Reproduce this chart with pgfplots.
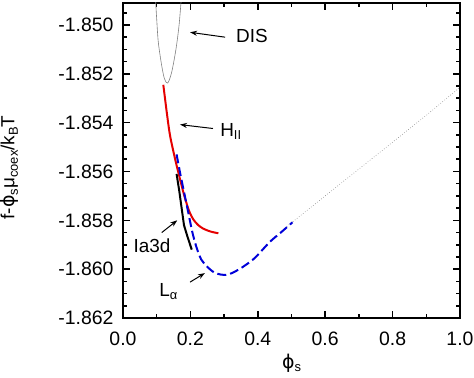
\documentclass[border=0pt]{standalone}
\usepackage{pgfplots}
\pgfplotsset{compat=1.18}
\usepackage{fontspec}
\setmainfont{Liberation Sans}
\newfontfamily\dejavu{DejaVu Sans}
\usetikzlibrary{arrows.meta}
\newcommand{\phis}{{\dejavu ϕ}}
\newcommand{\sub}[1]{\raisebox{-0.35ex}{\fontsize{13}{13}\selectfont #1}}
\begin{document}
\begin{tikzpicture}
\path[use as bounding box] (-123bp,-60bp) rectangle (351bp,318bp);
\begin{axis}[
  at={(0,0)}, anchor=south west,
  scale only axis, width=337bp, height=315bp,
  xmin=0, xmax=1.0, ymin=-1.862, ymax=-1.8491,
  xtick={0,0.2,...,1.0}, minor x tick num=1,
  ytick={-1.862,-1.860,-1.858,-1.856,-1.854,-1.852,-1.850},
  minor ytick={-1.8615,-1.861,-1.8605,-1.8595,-1.859,-1.8585,-1.8575,-1.857,-1.8565,-1.8555,-1.855,-1.8545,-1.8535,-1.853,-1.8525,-1.8515,-1.851,-1.8505,-1.8495},
  tick align=inside,
  major tick length=7bp, minor tick length=4bp,
  every tick/.style={black, line width=1.6pt},
  axis line style={line width=2pt},
  /pgf/number format/assume math mode=true,
  xticklabel style={yshift=-10bp, /pgf/number format/fixed, /pgf/number format/fixed zerofill, /pgf/number format/precision=1},
  yticklabel style={xshift=-6bp, /pgf/number format/fixed, /pgf/number format/fixed zerofill, /pgf/number format/precision=3},
  tick label style={font=\fontsize{19.5}{22}\selectfont},
  label style={font=\fontsize{19}{22}\selectfont},
  xlabel={\phis\sub{s}},
  xlabel style={at={(axis description cs:0.5,0)}, anchor=center, yshift=-45bp},
  ylabel={f-\phis\sub{s}μ\sub{coex}/k\sub{B}T},
  ylabel style={at={(axis description cs:-0.338,0.478)}, anchor=center, rotate=0},
  clip=true,
]
% DIS parabola
\addplot[gray, line width=0.6pt, smooth] coordinates {
(0.0955,-1.8488) (0.0970,-1.84906) (0.1000,-1.84976) (0.1048,-1.85071) (0.1148,-1.85166)
(0.1230,-1.85220) (0.1326,-1.85238) (0.1445,-1.85193) (0.1573,-1.85098) (0.1662,-1.85003)
(0.1721,-1.84907) (0.1730,-1.8488)};
% DIS high phi branch (dotted)
\addplot[gray, line width=0.6pt, dotted] coordinates {
(0.48,-1.85832) (0.60,-1.85700) (0.70,-1.85590) (0.80,-1.85480) (0.90,-1.85370) (1.00,-1.85255)};
% H_II red
\addplot[red!90!black, line width=2pt, smooth] coordinates {
(0.1196,-1.85245) (0.1297,-1.85356) (0.1395,-1.85452) (0.1543,-1.85547) (0.1662,-1.85615)
(0.174,-1.85658) (0.182,-1.85700) (0.189,-1.85732) (0.198,-1.85768) (0.2086,-1.85796)
(0.222,-1.85818) (0.238,-1.85834) (0.260,-1.85846) (0.283,-1.85853)};
% L_alpha blue dashed
\addplot[blue!85!black, line width=2pt, dash pattern=on 9bp off 4bp, smooth] coordinates {
(0.159,-1.8553) (0.170,-1.8561) (0.182,-1.8569) (0.194,-1.8577) (0.206,-1.8585)
(0.218,-1.8591) (0.232,-1.8596) (0.250,-1.8599) (0.270,-1.86013) (0.290,-1.86022)
(0.308,-1.86023) (0.325,-1.86015) (0.345,-1.86000) (0.365,-1.85982) (0.392,-1.85953)
(0.436,-1.85888) (0.470,-1.85848) (0.503,-1.85808)};
% Ia3d black
\addplot[black, line width=2pt] coordinates {
(0.159,-1.8561) (0.167,-1.8568) (0.174,-1.8575) (0.181,-1.8582) (0.192,-1.8587) (0.204,-1.8592)};
% annotations
\draw[-{Stealth[length=7bp,width=5bp]}, line width=1pt] (axis cs:0.303,-1.8505) -- (axis cs:0.199,-1.8503);
\node[anchor=west, font=\fontsize{19}{22}\selectfont, inner sep=0pt] at (axis cs:0.335,-1.85045) {DIS};
\draw[-{Stealth[length=7bp,width=5bp]}, line width=1pt] (axis cs:0.267,-1.85424) -- (axis cs:0.169,-1.85408);
\node[anchor=west, font=\fontsize{19}{22}\selectfont, inner sep=0pt] at (axis cs:0.288,-1.85437) {H\sub{II}};
\draw[-{Stealth[length=7bp,width=5bp]}, line width=1pt] (axis cs:0.115,-1.8585) -- (axis cs:0.161,-1.8580);
\node[anchor=west, font=\fontsize{19}{22}\selectfont, inner sep=0pt] at (axis cs:0.0306,-1.85904) {Ia3d};
\draw[-{Stealth[length=7bp,width=5bp]}, line width=1pt] (axis cs:0.199,-1.86053) -- (axis cs:0.243,-1.86016);
\node[anchor=west, font=\fontsize{19}{22}\selectfont, inner sep=0pt] at (axis cs:0.107,-1.86092) {L\sub{α}};
\end{axis}
\end{tikzpicture}
\end{document}
